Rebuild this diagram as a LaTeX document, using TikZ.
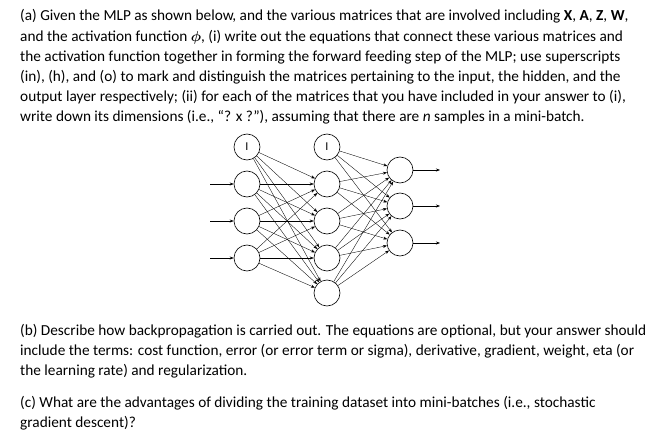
\documentclass[tikz,border=0pt]{standalone}
\usepackage{amsmath,amssymb,bm}
\usepackage{fontspec}
\setmainfont{Carlito}
\usetikzlibrary{arrows.meta}
\begin{document}
\begin{tikzpicture}[x=1pt,y=-1pt,
  txt/.style={anchor=base west,inner sep=0pt,font=\fontsize{15.3}{18}\selectfont},
  neuron/.style={circle,draw,line width=0.6pt,minimum size=26pt,inner sep=0pt},
  edge/.style={line width=0.35pt,-{Stealth[length=4pt,width=3pt]}},
  io/.style={line width=0.5pt,-{Stealth[length=4pt,width=3pt]}}]
\useasboundingbox (0,0) rectangle (665,436);
\node[txt] (t1) at (20,21) {(a) Given the MLP as shown below, and the various matrices that are involved including \textbf{X}, \textbf{A}, \textbf{Z}, \textbf{W},};
\node[txt] (t2) at (20,41.2) {and the activation function $\bm{\phi}$, (i) write out the equations that connect these various matrices and};
\node[txt] (t3) at (20,61.4) {the activation function together in forming the forward feeding step of the MLP; use superscripts};
\node[txt] (t4) at (20,81.6) {(in), (h), and (o) to mark and distinguish the matrices pertaining to the input, the hidden, and the};
\node[txt] (t5) at (20,101.8) {output layer respectively; (ii) for each of the matrices that you have included in your answer to (i),};
\node[txt] (t6) at (20,122) {write down its dimensions (i.e., ``? x ?''), assuming that there are \textit{n} samples in a mini-batch.};
\node[txt] (b1) at (20,335) {(b) Describe how backpropagation is carried out. The equations are optional, but your answer should};
\node[txt] (b2) at (20,355) {include the terms: cost function, error (or error term or sigma), derivative, gradient, weight, eta (or};
\node[txt] (b3) at (20,375) {the learning rate) and regularization.};
\node[txt] (c1) at (20,407) {(c) What are the advantages of dividing the training dataset into mini-batches (i.e., stochastic};
\node[txt] (c2) at (20,427) {gradient descent)?};
% network
\node[neuron] (ib) at (247,147) {\large I};
\node[neuron] (i1) at (247,184) {};
\node[neuron] (i2) at (247,221) {};
\node[neuron] (i3) at (247,258) {};
\node[neuron] (hb) at (327,147) {\large I};
\node[neuron] (h1) at (327,184) {};
\node[neuron] (h2) at (327,221) {};
\node[neuron] (h3) at (327,258) {};
\node[neuron] (h4) at (327,293) {};
\node[neuron] (o1) at (400,170) {};
\node[neuron] (o2) at (400,206) {};
\node[neuron] (o3) at (400,243) {};
\foreach \s in {ib,i1,i2,i3}
  \foreach \t in {h1,h2,h3,h4}
    \draw[edge] (\s) -- (\t);
\foreach \s in {hb,h1,h2,h3,h4}
  \foreach \t in {o1,o2,o3}
    \draw[edge] (\s) -- (\t);
\coordinate (a1) at (210,184);
\coordinate (a2) at (210,221);
\coordinate (a3) at (210,258);
\coordinate (e1) at (440,170);
\coordinate (e2) at (440,206);
\coordinate (e3) at (440,243);
\draw[io] (a1) -- (i1);
\draw[io] (a2) -- (i2);
\draw[io] (a3) -- (i3);
\draw[io] (o1) -- (e1);
\draw[io] (o2) -- (e2);
\draw[io] (o3) -- (e3);
\end{tikzpicture}
\end{document}
